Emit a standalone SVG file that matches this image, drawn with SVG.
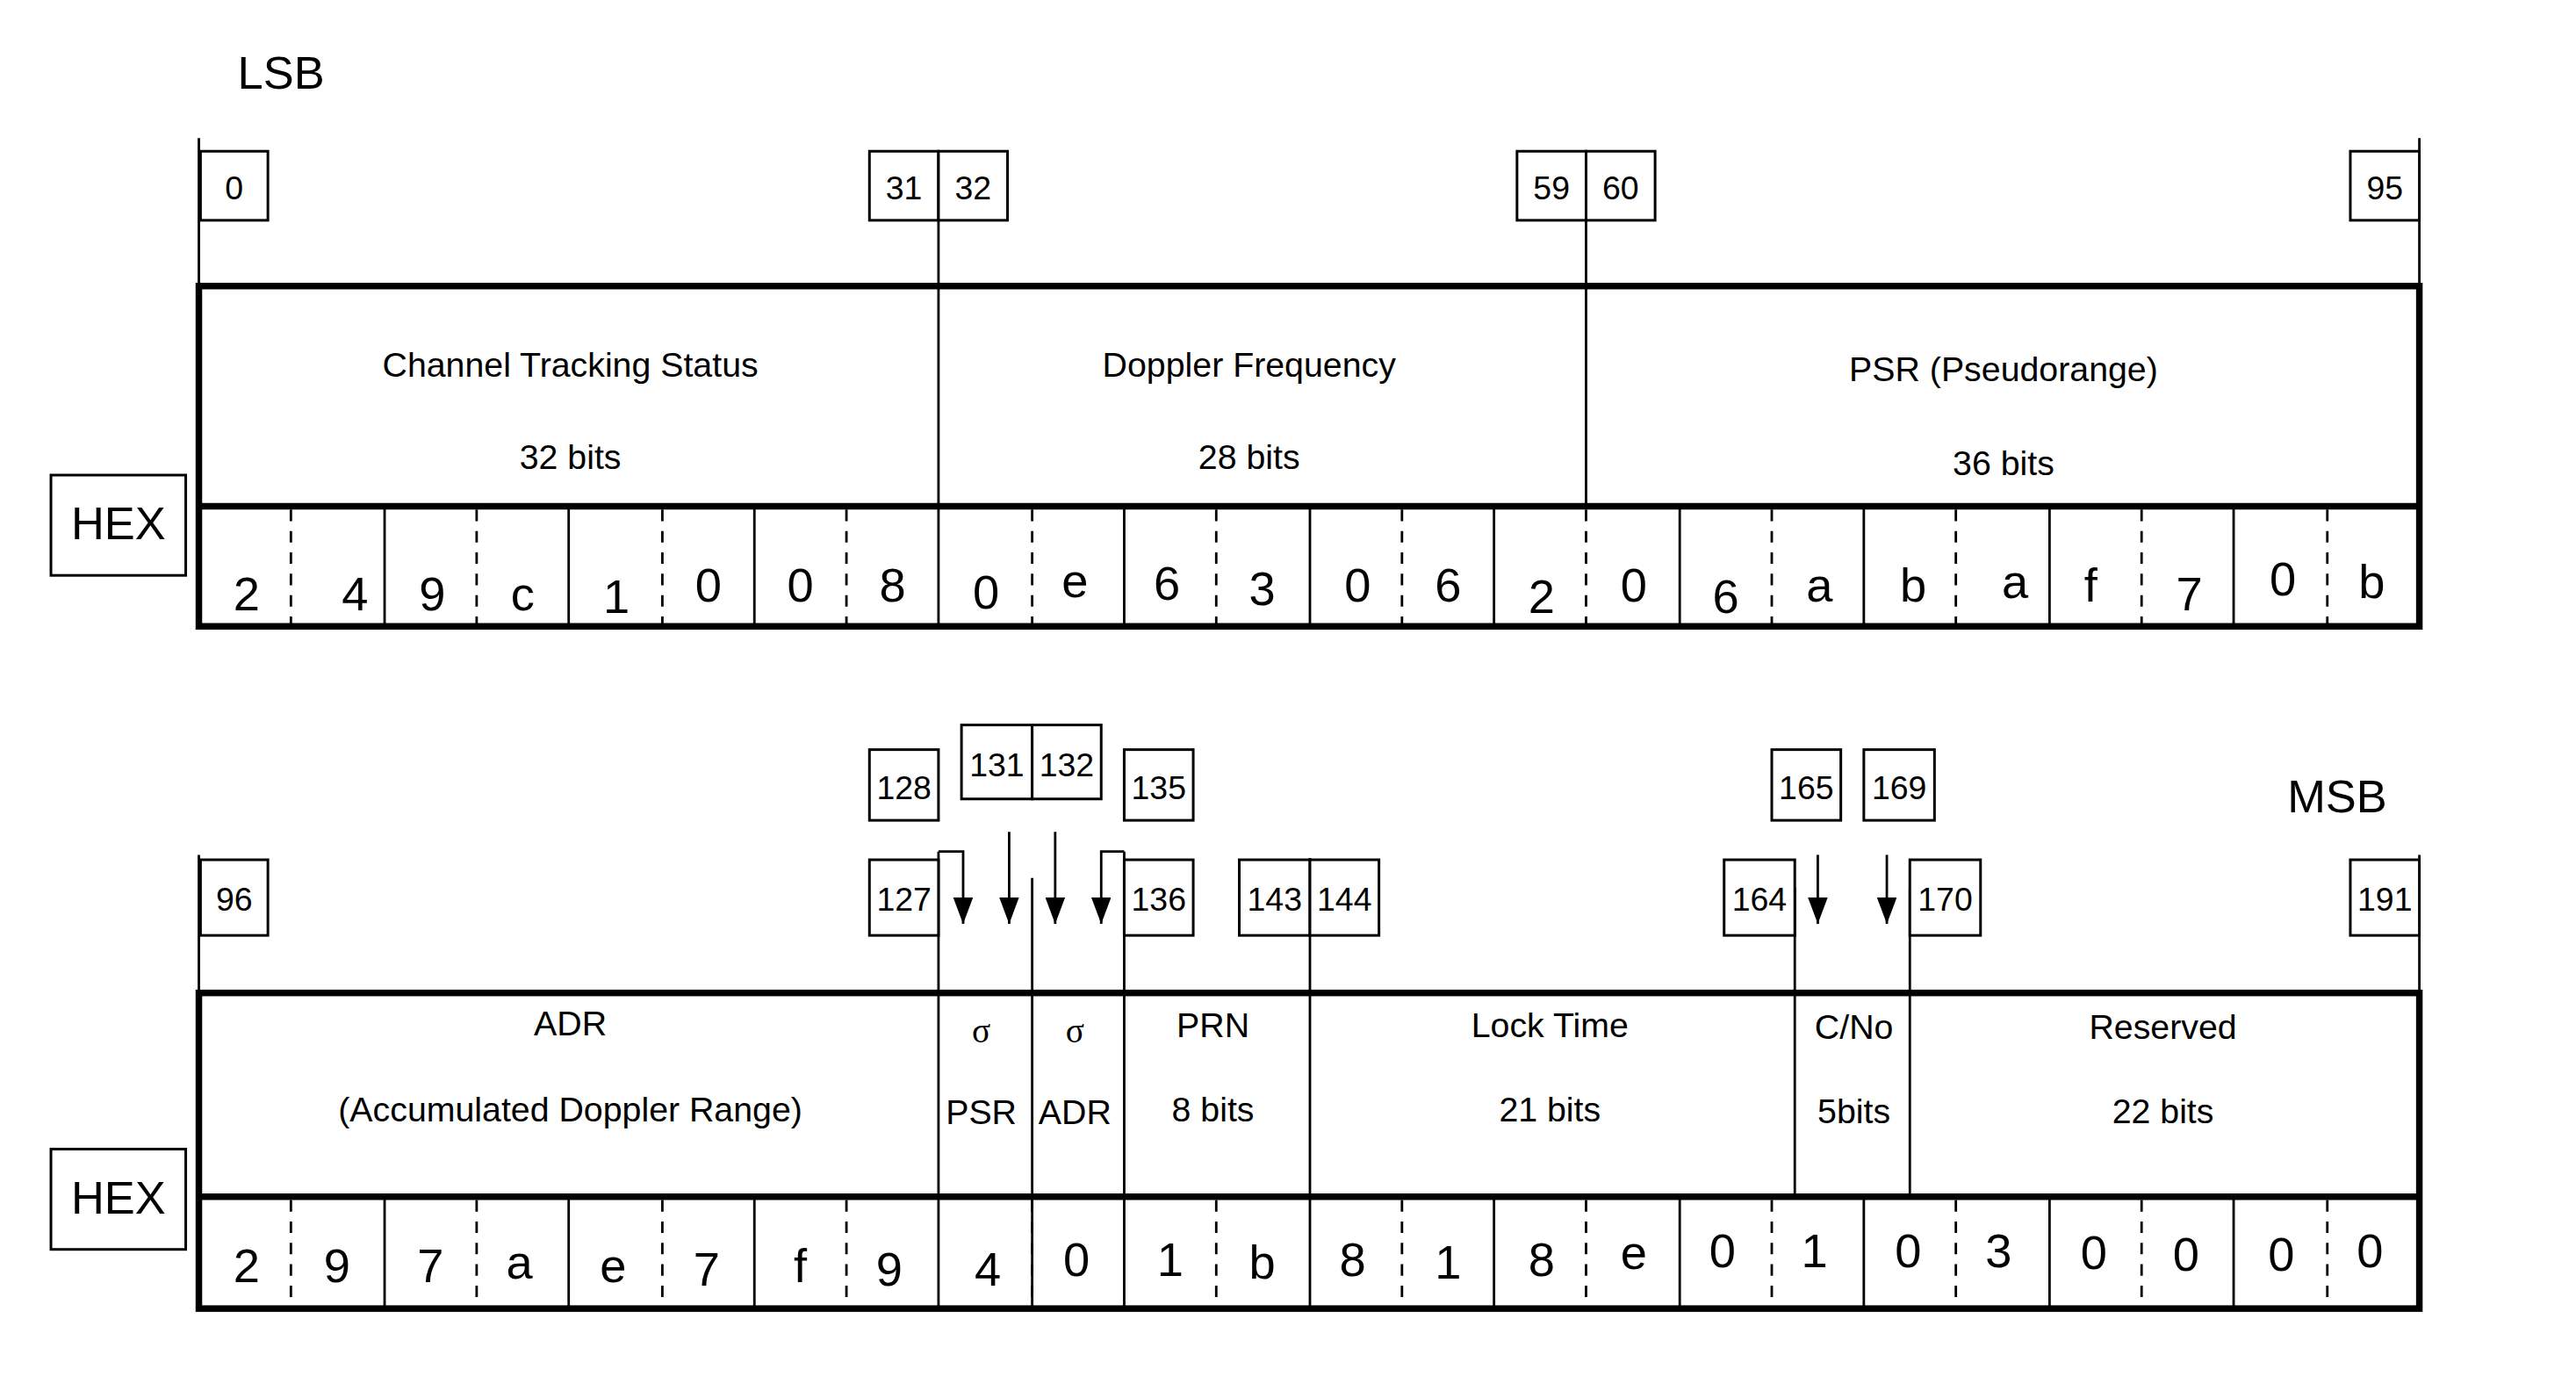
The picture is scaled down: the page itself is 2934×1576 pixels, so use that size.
<svg xmlns="http://www.w3.org/2000/svg" width="2934" height="1576" viewBox="0 0 2934 1576">
<defs>
<marker id="ah" viewBox="0 0 16 12" refX="16" refY="6" markerWidth="16" markerHeight="12" markerUnits="userSpaceOnUse" orient="auto"><path d="M0,0 L16,6 L0,12 z" fill="#000"/></marker>
<style>
text{font-family:"Liberation Sans",Arial,sans-serif;fill:#000;text-anchor:middle}
.b{fill:#fff;stroke:#000;stroke-width:1.6}
.n{font-size:20px}
.f{font-size:21px}
.h{font-size:29px}
.big{font-size:28px}
.t{stroke:#000;stroke-width:1.5;fill:none}
.d{stroke:#000;stroke-width:1.5;stroke-dasharray:7,6}
.s{stroke:#000;stroke-width:1.5}
.thick{fill:none;stroke:#000;stroke-width:4}
.sig{font-family:"Liberation Serif",serif;font-size:21px}
</style>
</defs>
<rect width="2934" height="1576" fill="#fff"/>
<g transform="scale(1.872)">
<text x="171" y="54" class="big">LSB</text>
<text x="1422" y="494" class="big">MSB</text>
<g id="hex1"><rect x="31" y="289" width="82" height="61" class="b"/><text x="72" y="328" class="big">HEX</text></g>
<g id="hex2"><rect x="31" y="699" width="82" height="61" class="b"/><text x="72" y="738" class="big">HEX</text></g>

<g id="connectors">
<path class="t" d="M121,84V174 M571,134V174 M965,134V174 M1472,84V174"/>
<path class="t" d="M121,520V604 M571,518V604 M628,534V604 M684,518V604 M797,522V604 M1092,540V604 M1162,540V604 M1472,520V604"/>
<path class="t" d="M571,518H586V562" marker-end="url(#ah)"/>
<path class="t" d="M614,506V562" marker-end="url(#ah)"/>
<path class="t" d="M642,506V562" marker-end="url(#ah)"/>
<path class="t" d="M684,518H670V562" marker-end="url(#ah)"/>
<path class="t" d="M1106,520V562" marker-end="url(#ah)"/>
<path class="t" d="M1148,520V562" marker-end="url(#ah)"/>
</g>

<g id="bits-top">
<rect x="122" y="92" width="41" height="42" class="b"/><text x="142.5" y="121" class="n">0</text>
<rect x="529" y="92" width="42" height="42" class="b"/><text x="550" y="121" class="n">31</text>
<rect x="571" y="92" width="42" height="42" class="b"/><text x="592" y="121" class="n">32</text>
<rect x="923" y="92" width="42" height="42" class="b"/><text x="944" y="121" class="n">59</text>
<rect x="965" y="92" width="42" height="42" class="b"/><text x="986" y="121" class="n">60</text>
<rect x="1430" y="92" width="42" height="42" class="b"/><text x="1451" y="121" class="n">95</text>
</g>
<g id="bits-bottom">
<rect x="122" y="523" width="41" height="46" class="b"/><text x="142.5" y="554" class="n">96</text>
<rect x="529" y="523" width="42" height="46" class="b"/><text x="550" y="554" class="n">127</text>
<rect x="684" y="523" width="42" height="46" class="b"/><text x="705" y="554" class="n">136</text>
<rect x="754" y="523" width="43" height="46" class="b"/><text x="775.5" y="554" class="n">143</text>
<rect x="797" y="523" width="42" height="46" class="b"/><text x="818" y="554" class="n">144</text>
<rect x="1049" y="523" width="43" height="46" class="b"/><text x="1070.5" y="554" class="n">164</text>
<rect x="1162" y="523" width="43" height="46" class="b"/><text x="1183.5" y="554" class="n">170</text>
<rect x="1430" y="523" width="42" height="46" class="b"/><text x="1451" y="554" class="n">191</text>
<rect x="529" y="456" width="42" height="43" class="b"/><text x="550" y="486" class="n">128</text>
<rect x="585" y="441" width="43" height="45" class="b"/><text x="606.5" y="472" class="n">131</text>
<rect x="628" y="441" width="42" height="45" class="b"/><text x="649" y="472" class="n">132</text>
<rect x="684" y="456" width="42" height="43" class="b"/><text x="705" y="486" class="n">135</text>
<rect x="1078" y="456" width="42" height="43" class="b"/><text x="1099" y="486" class="n">165</text>
<rect x="1134" y="456" width="43" height="43" class="b"/><text x="1155.5" y="486" class="n">169</text>
</g>

<g id="table-top">
<path class="s" d="M121,308H1472 M571,174V381 M965,174V308"/>
<path class="s" d="M234,308V381 M346,308V381 M459,308V381 M684,308V381 M797,308V381 M909,308V381 M1022,308V381 M1134,308V381 M1247,308V381 M1359,308V381"/>
<path class="d" d="M177,310V381 M290,310V381 M403,310V381 M515,310V381 M628,310V381 M740,310V381 M853,310V381 M965,310V381 M1078,310V381 M1190,310V381 M1303,310V381 M1416,310V381"/>
<path class="thick" d="M121,308H1472"/>
<rect x="121" y="174" width="1351" height="207" class="thick"/>
<text x="347" y="229" class="f">Channel Tracking Status</text><text x="347" y="285" class="f">32 bits</text>
<text x="760" y="229" class="f">Doppler Frequency</text><text x="760" y="285" class="f">28 bits</text>
<text x="1219" y="232" class="f">PSR (Pseudorange)</text><text x="1219" y="289" class="f">36 bits</text>
<g class="h">
<text x="150" y="371" class="h">2</text><text x="216" y="371" class="h">4</text><text x="263" y="371" class="h">9</text><text x="318" y="371" class="h">c</text>
<text x="375" y="373" class="h">1</text><text x="431" y="366" class="h">0</text><text x="487" y="366" class="h">0</text><text x="543" y="366" class="h">8</text>
<text x="600" y="370" class="h">0</text><text x="654" y="363" class="h">e</text><text x="710" y="365" class="h">6</text><text x="768" y="368" class="h">3</text>
<text x="826" y="366" class="h">0</text><text x="881" y="366" class="h">6</text><text x="938" y="373" class="h">2</text><text x="994" y="366" class="h">0</text>
<text x="1050" y="373" class="h">6</text><text x="1107" y="366" class="h">a</text><text x="1164" y="366" class="h">b</text><text x="1226" y="364" class="h">a</text>
<text x="1272" y="366" class="h">f</text><text x="1332" y="371" class="h">7</text><text x="1389" y="362" class="h">0</text><text x="1443" y="364" class="h">b</text>
</g>
</g>

<g id="table-bottom">
<path class="s" d="M571,604V796 M628,604V796 M684,604V796 M797,604V796 M1092,604V728 M1162,604V728"/>
<path class="s" d="M234,728V796 M346,728V796 M459,728V796 M909,728V796 M1022,728V796 M1134,728V796 M1247,728V796 M1359,728V796"/>
<path class="d" d="M177,730V796 M290,730V796 M403,730V796 M515,730V796 M628,730V796 M740,730V796 M853,730V796 M965,730V796 M1078,730V796 M1190,730V796 M1303,730V796 M1416,730V796"/>
<path class="thick" d="M121,728H1472"/>
<rect x="121" y="604" width="1351" height="192" class="thick"/>
<text x="347" y="630" class="f">ADR</text><text x="347" y="682" class="f">(Accumulated Doppler Range)</text>
<text x="597" y="634" class="sig">σ</text><text x="597" y="684" class="f">PSR</text>
<text x="654" y="634" class="sig">σ</text><text x="654" y="684" class="f">ADR</text>
<text x="738" y="631" class="f">PRN</text><text x="738" y="682" class="f">8 bits</text>
<text x="943" y="631" class="f">Lock Time</text><text x="943" y="682" class="f">21 bits</text>
<text x="1128" y="632" class="f">C/No</text><text x="1128" y="683" class="f">5bits</text>
<text x="1316" y="632" class="f">Reserved</text><text x="1316" y="683" class="f">22 bits</text>
<text x="150" y="780" class="h">2</text><text x="205" y="780" class="h">9</text><text x="262" y="780" class="h">7</text><text x="316" y="778" class="h">a</text>
<text x="373" y="780" class="h">e</text><text x="430" y="782" class="h">7</text><text x="487" y="780" class="h">f</text><text x="541" y="782" class="h">9</text>
<text x="601" y="782" class="h">4</text><text x="655" y="776" class="h">0</text><text x="712" y="776" class="h">1</text><text x="768" y="778" class="h">b</text>
<text x="823" y="776" class="h">8</text><text x="881" y="778" class="h">1</text><text x="938" y="776" class="h">8</text><text x="994" y="772" class="h">e</text>
<text x="1048" y="771" class="h">0</text><text x="1104" y="771" class="h">1</text><text x="1161" y="771" class="h">0</text><text x="1216" y="771" class="h">3</text>
<text x="1274" y="772" class="h">0</text><text x="1330" y="773" class="h">0</text><text x="1388" y="773" class="h">0</text><text x="1442" y="771" class="h">0</text>
</g>
</g>
</svg>
